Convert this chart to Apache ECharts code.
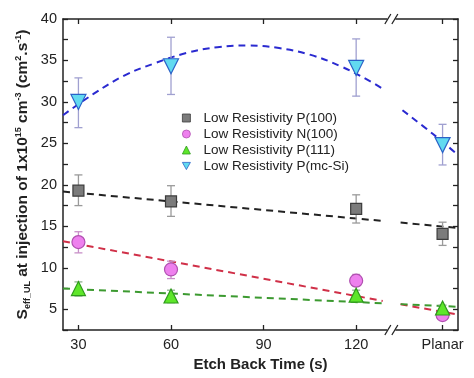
<!DOCTYPE html>
<html><head><meta charset="utf-8">
<script src="https://cdn.jsdelivr.net/npm/echarts@6/dist/echarts.min.js"></script>
<style>html,body{margin:0;padding:0;background:#fff}#c{width:474px;height:378px}</style>
</head><body><div id="c"></div>
<script>
// ---- data ----
const xValues = [30, 60, 120, 148];            // 148 = position of "Planar"
const xTickValues = [30, 60, 90, 120, 148];
const xTickLabels = ['30', '60', '90', '120', 'Planar'];
const yTickLabels = [5, 10, 15, 20, 25, 30, 35, 40];
const seriesNames = ['Low Resistivity P(100)', 'Low Resistivity N(100)', 'Low Resistivity P(111)', 'Low Resistivity P(mc-Si)'];

const p100 = [19.3, 18.0, 17.1, 14.1];
const p100Low = [17.5, 16.2, 15.4, 12.7];
const p100High = [21.2, 19.9, 18.8, 15.5];

const n100 = [13.1, 9.8, 8.45, 4.3];
const n100Low = [11.8, 8.7, 7.8, 4.0];
const n100High = [14.35, 10.8, 9.2, 4.6];

const p111 = [7.5, 6.6, 6.7, 5.15];
const p111Low = [6.6, 5.8, 6.0, 4.8];
const p111High = [8.3, 7.3, 7.3, 5.5];

const mcSi = [30.0, 34.3, 34.1, 24.8];
const mcSiLow = [26.9, 30.9, 30.7, 22.4];
const mcSiHigh = [32.9, 37.8, 37.6, 27.3];

// fit curves (gap at the axis break)
const fitP100 = [[25, 19.2], [128.6, 15.65], [131.4, '-'], [134.4, 15.45], [153, 14.8]];
const fitN100 = [[25, 13.2], [128.6, 6.0], [131.4, '-'], [134.4, 5.6], [153, 4.35]];
const fitP111 = [[25, 7.5], [128.6, 5.72], [131.4, '-'], [134.4, 5.62], [153, 5.3]];
const fitMcSi = [[25, 28.4], [35, 31.0], [45, 33.2], [55, 34.7], [65, 35.9], [75, 36.6], [85, 36.8], [95, 36.5],
  [105, 35.7], [115, 34.3], [125, 32.4], [128.5, 31.6], [131.4, '-'], [135, 29.0], [145, 26.1], [153, 23.6]];
const breakAt = 131.4;

// ---- chart ----
const FONT = "'Liberation Sans', Arial, sans-serif";
const chart = echarts.init(document.getElementById('c'));

function errSeries(low, high, color) {
  return {
    type: 'custom', silent: true, z: 2,
    data: xValues.map((x, i) => [x, low[i], high[i]]),
    encode: { x: 0, y: [1, 2] },
    renderItem(params, api) {
      const x = api.value(0);
      const a = api.coord([x, api.value(1)]);
      const b = api.coord([x, api.value(2)]);
      const w = 4, st = { stroke: color, lineWidth: 1.3 };
      return { type: 'group', children: [
        { type: 'line', shape: { x1: a[0], y1: a[1], x2: b[0], y2: b[1] }, style: st },
        { type: 'line', shape: { x1: a[0] - w, y1: a[1], x2: a[0] + w, y2: a[1] }, style: st },
        { type: 'line', shape: { x1: b[0] - w, y1: b[1], x2: b[0] + w, y2: b[1] }, style: st }
      ]};
    }
  };
}
function fitSeries(data, color) {
  return { type: 'line', data, smooth: data.length > 6 ? 0.4 : false, showSymbol: false, silent: true, z: 1,
    lineStyle: { color, width: 2, type: [7, 5] } };
}
const styles = [
  { symbol: 'rect', size: 11, color: '#7b7b7b', border: '#3c3c3c', err: '#9a9a9a', fit: '#222222' },
  { symbol: 'circle', size: 13, color: '#ee80ee', border: '#b050b0', err: '#c890c8', fit: '#d03048' },
  { symbol: 'triangle', size: 14, color: '#5ee62a', border: '#2f9a1c', err: '#90b090', fit: '#3c9a30' },
  { symbol: 'triangle', size: 15, color: '#62daf0', border: '#2a62c8', err: '#a0a0d0', fit: '#2a2ad0', rotate: 180 }
];
const vals = [p100, n100, p111, mcSi];
const lows = [p100Low, n100Low, p111Low, mcSiLow];
const highs = [p100High, n100High, p111High, mcSiHigh];
const fits = [fitP100, fitN100, fitP111, fitMcSi];

const series = [];
fits.forEach((f, i) => series.push(fitSeries(f, styles[i].fit)));
vals.forEach((v, i) => series.push(errSeries(lows[i], highs[i], styles[i].err)));
vals.forEach((v, i) => series.push({
  type: 'scatter', name: seriesNames[i], z: 3 + i,
  symbol: styles[i].symbol, symbolSize: styles[i].size, symbolRotate: styles[i].rotate || 0,
  data: xValues.map((x, j) => [x, v[j]]),
  itemStyle: { color: styles[i].color, borderColor: styles[i].border, borderWidth: 1.2, opacity: 1 }
}));

const axisLineStyle = { color: '#222', width: 1.5 };
const tickStyle = { color: '#222', width: 1.3 };
const rich = {
  b: { fontSize: 15.5, fontWeight: 'bold', color: '#222', fontFamily: FONT, lineHeight: 18, verticalAlign: 'middle' },
  sub: { fontSize: 9, fontWeight: 'bold', color: '#222', fontFamily: FONT, lineHeight: 18, verticalAlign: 'bottom' },
  sup: { fontSize: 9, fontWeight: 'bold', color: '#222', fontFamily: FONT, lineHeight: 18, verticalAlign: 'top' }
};
const legendIcons = ['rect', 'circle', 'triangle', 'path://M0,0 L10,0 L5,9 Z'];

chart.setOption({
  animation: false,
  backgroundColor: '#fff',
  textStyle: { fontFamily: FONT },
  grid: { left: 63, right: 16, top: 19, bottom: 48, containLabel: false, outerBoundsMode: 'none' },
  legend: {
    orient: 'vertical', left: 177, top: 106, itemWidth: 8, itemHeight: 8, itemGap: 2,
    textStyle: { fontSize: 13.5, color: '#222', fontFamily: FONT, padding: [0, 0, 0, 8] },
    data: seriesNames.map((n, i) => ({ name: n, icon: legendIcons[i],
      itemStyle: { color: styles[i].color, borderColor: styles[i].border, borderWidth: 0.8 } }))
  },
  xAxis: [{
    type: 'value', min: 25, max: 153, position: 'bottom',
    axisLine: { show: true, onZero: false, lineStyle: axisLineStyle },
    axisTick: { show: true, inside: true, length: 5, lineStyle: tickStyle, customValues: xTickValues },
    axisLabel: { customValues: xTickValues, formatter: v => xTickLabels[xTickValues.indexOf(v)] || '',
      color: '#222', fontSize: 14.5, margin: 7, fontFamily: FONT },
    splitLine: { show: false },
    name: 'Etch Back Time (s)', nameLocation: 'middle', nameGap: 25,
    nameTextStyle: { fontSize: 15, fontWeight: 'bold', color: '#222', fontFamily: FONT }
  }, {
    type: 'value', min: 25, max: 153, position: 'top',
    axisLine: { show: true, onZero: false, lineStyle: axisLineStyle },
    axisTick: { show: true, inside: true, length: 5, lineStyle: tickStyle, customValues: xTickValues },
    axisLabel: { show: false }, splitLine: { show: false }
  }],
  yAxis: [{
    type: 'value', min: 2.5, max: 40, interval: 2.5,
    axisLine: { show: true, onZero: false, lineStyle: axisLineStyle },
    axisTick: { show: true, inside: true, length: 5, lineStyle: tickStyle },
    axisLabel: { customValues: yTickLabels, color: '#222', fontSize: 14.5, margin: 6, fontFamily: FONT },
    splitLine: { show: false },
    name: '{b|S}{sub|eff_UL}{b| at injection of 1x10}{sup|15}{b| cm}{sup|-3}{b| (cm}{sup|2}{b|.s}{sup|-1}{b|)}',
    nameLocation: 'middle', nameGap: 31, nameRotate: 90, nameMoveOverlap: false,
    nameTextStyle: { rich }
  }, {
    type: 'value', min: 2.5, max: 40, interval: 2.5, position: 'right',
    axisLine: { show: true, onZero: false, lineStyle: axisLineStyle },
    axisTick: { show: true, inside: true, length: 5, lineStyle: tickStyle },
    axisLabel: { show: false }, splitLine: { show: false }
  }],
  series
});

// axis-break marks "//" on top and bottom axes
const bx = chart.convertToPixel({ xAxisIndex: 0 }, breakAt);
const yb = chart.convertToPixel({ yAxisIndex: 0 }, 2.5);
const yt = chart.convertToPixel({ yAxisIndex: 0 }, 40);
const g = [];
[yb, yt].forEach(y => {
  g.push({ type: 'rect', shape: { x: bx - 4, y: y - 2, width: 8, height: 4 }, style: { fill: '#fff' }, z: 100 });
  [-3.5, 3.5].forEach(d => g.push({ type: 'line', z: 101,
    shape: { x1: bx + d - 3, y1: y + 5, x2: bx + d + 3, y2: y - 5 }, style: { stroke: '#222', lineWidth: 1.3 } }));
});
chart.setOption({ graphic: g });
</script></body></html>
